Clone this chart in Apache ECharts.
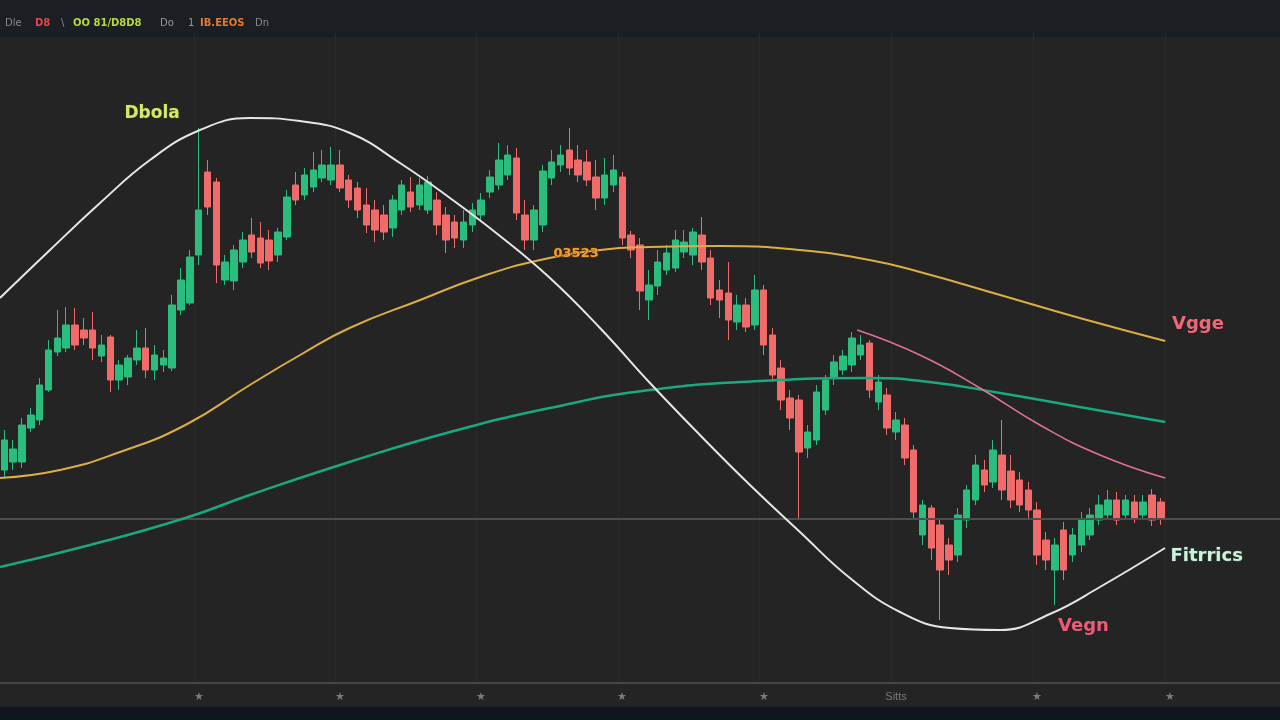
<!DOCTYPE html>
<html>
<head>
<meta charset="utf-8">
<script src="https://cdn.jsdelivr.net/npm/echarts@6/dist/echarts.min.js"></script>
<style>
html,body{margin:0;padding:0;background:#242424;}
#chart{width:1280px;height:720px;}
</style>
</head>
<body>
<div id="chart"></div>
<script>
// ---- Candles (index 0..131) ----
const candleOpen = [42.6,44.2,44.2,51.0,52.6,58.6,66.2,67.0,71.6,70.6,70.6,65.4,69.2,60.6,61.2,64.6,67.0,62.6,63.6,63.0,
74.6,76.0,85.6,102.2,100.2,80.6,80.4,84.2,89.6,89.0,88.6,85.6,89.2,99.6,97.6,99.2,101.0,100.6,103.6,100.6,
99.0,95.6,94.6,93.6,91.0,94.6,98.2,95.6,94.6,96.6,93.6,92.2,88.6,91.6,93.6,98.2,99.6,101.6,105.0,93.6,
88.6,91.6,101.0,103.6,106.6,104.6,104.2,101.2,97.0,99.6,101.2,89.6,87.6,76.6,79.4,82.6,83.0,86.2,85.6,89.6,
85.0,78.6,78.0,72.2,75.6,71.6,78.6,69.6,63.0,57.0,56.6,47.0,48.6,54.6,61.0,62.6,63.6,65.6,68.0,56.2,
57.6,50.2,51.6,46.6,29.6,35.0,31.6,27.6,25.6,32.6,36.6,42.6,40.2,45.6,42.4,40.6,38.6,34.6,28.6,22.6,
30.6,25.6,27.6,29.6,32.6,33.6,36.6,33.6,36.2,33.6,37.6,36.2];
const candleClose = [48.6,46.8,51.6,53.6,59.6,66.6,69.0,71.6,67.6,69.0,67.0,67.6,60.6,63.6,65.0,67.0,62.6,65.6,65.0,75.6,
80.6,85.2,94.6,95.2,83.6,84.2,86.6,88.6,86.2,84.0,84.4,90.2,97.2,96.6,101.6,102.6,103.6,103.6,99.0,96.6,
94.6,91.6,90.6,90.2,96.6,99.6,95.2,99.6,100.2,91.6,88.6,89.0,92.2,94.6,96.6,101.2,104.6,105.6,94.0,88.6,
94.6,102.4,104.2,105.6,103.0,101.6,100.6,97.0,101.6,102.6,89.0,86.6,78.4,79.6,84.2,86.0,88.6,88.2,90.2,84.2,
77.0,76.6,72.6,75.6,71.2,78.6,67.6,61.6,56.6,53.0,46.2,50.2,58.2,60.6,64.2,65.4,69.0,67.6,58.6,60.2,
51.0,52.6,45.0,34.2,35.6,27.0,22.6,24.6,33.6,38.6,43.6,39.6,46.6,38.6,36.6,35.6,34.6,25.6,24.6,27.6,
22.6,29.6,32.6,33.6,35.6,36.6,32.6,36.6,33.0,36.2,32.6,33.0];
const candleLow = [41.0,42.6,43.0,50.2,51.6,58.2,65.4,66.2,66.6,67.6,64.6,64.2,58.2,58.6,59.6,63.6,61.0,60.6,62.2,62.4,
73.6,75.6,83.6,93.6,80.0,79.6,78.6,83.0,85.0,83.0,82.6,84.2,88.6,95.6,96.6,98.2,100.2,99.6,98.2,95.0,
93.0,90.0,88.2,88.6,89.2,93.6,94.2,94.6,93.8,89.6,86.0,87.0,87.0,90.2,92.6,97.0,98.6,100.6,92.6,86.6,
86.6,90.2,99.6,102.2,101.6,100.2,99.4,94.6,95.6,98.2,87.6,85.0,74.6,72.6,77.6,81.6,82.2,85.0,83.6,82.6,
75.6,73.0,68.6,70.6,70.2,70.6,65.6,60.2,54.6,50.6,32.6,45.0,47.6,53.6,59.6,61.6,62.2,64.6,57.0,54.6,
49.6,48.6,43.6,32.6,27.6,24.6,12.6,21.6,24.2,31.0,35.6,38.2,39.0,36.6,35.0,34.2,33.0,23.6,22.6,15.6,
20.6,24.2,26.2,28.6,31.6,32.6,31.6,32.6,32.0,32.6,31.4,31.6];
const candleHigh = [50.6,48.6,53.0,55.0,61.0,68.6,74.6,75.2,75.0,73.0,74.2,69.6,69.6,64.6,65.6,70.6,71.0,67.6,66.6,77.6,
83.0,86.6,111.0,104.6,101.0,85.6,87.6,90.2,93.0,92.2,90.6,91.0,98.6,102.2,103.0,106.2,106.6,107.2,106.6,101.6,
100.2,99.0,96.6,95.6,97.6,100.6,101.2,101.0,101.4,98.2,95.2,93.6,94.6,96.0,98.0,102.6,108.0,107.6,107.0,96.6,
95.6,103.6,106.6,107.6,111.0,107.6,106.6,104.6,105.0,105.6,102.2,90.4,89.0,82.6,86.6,87.6,90.6,90.6,91.0,93.2,
86.6,80.6,84.2,77.6,77.0,81.6,79.6,71.0,64.6,58.6,57.6,51.6,59.6,61.6,65.6,66.6,70.2,69.6,68.6,61.6,
59.0,54.2,53.0,47.6,36.6,35.6,32.6,29.0,35.0,39.6,45.6,44.6,48.6,52.6,45.6,42.2,40.2,36.2,30.2,29.0,
32.2,31.0,34.2,35.0,37.6,38.6,38.2,37.6,37.6,37.6,38.8,37.0];

// ---- Axis categories / tick labels ----
const categoryCount = 145;
const tickIndex = [22, 38, 54, 70, 86, 101, 117, 132];
const tickLabels = ['★', '★', '★', '★', '★', 'Sitts', '★', '★'];

// ---- Overlay curves: [day, value] ----
const whiteDays   = [0, 5.66, 11.33, 16.99, 22.66, 28.32, 33.98, 39.65, 45.31, 50.97, 56.64, 62.30, 67.97, 73.63, 79.29, 84.96, 90.62, 96.28, 101.95, 107.61, 113.28, 118.94, 124.60, 131.97];
const whiteValues = [77.0, 86.6, 96.0, 104.6, 110.6, 113.0, 112.4, 110.0, 104.0, 97.0, 89.4, 81.0, 71.0, 60.0, 49.6, 39.6, 30.2, 21.0, 14.2, 11.0, 10.6, 13.8, 19.2, 27.0];
const yellowDays   = [0, 6.8, 13.6, 21.0, 28.3, 34.0, 39.6, 47.6, 54.4, 61.2, 68.0, 73.6, 81.6, 90.6, 98.5, 104.2, 113.3, 122.3, 132.0];
const yellowValues = [41.0, 42.6, 46.2, 51.6, 59.6, 65.6, 71.0, 76.6, 81.2, 84.6, 86.6, 87.2, 87.4, 86.6, 84.6, 82.2, 77.6, 73.0, 68.4];
const tealDays   = [0, 10.2, 21.0, 28.3, 39.6, 51.0, 62.3, 73.6, 86.1, 98.5, 105.3, 113.3, 122.3, 132.0];
const tealValues = [23.2, 27.6, 33.0, 37.6, 44.2, 50.2, 55.0, 58.6, 60.4, 61.0, 60.2, 58.0, 55.2, 52.2];
const pinkDays   = [97.1, 104.2, 111.0, 117.8, 124.6, 132.0];
const pinkValues = [70.6, 65.6, 59.0, 51.6, 45.6, 41.0];
const supportLevel = 32.8;

const categories = [];
for (let i = 0; i < categoryCount; i++) categories.push('D' + i);
const candleData = candleOpen.map((o, i) => [o, candleClose[i], candleLow[i], candleHigh[i]]);
const pair = (d, v) => d.map((x, i) => [x, v[i]]);

const chart = echarts.init(document.getElementById('chart'), null, {renderer: 'canvas'});
const GREEN = '#2bbd7e', RED = '#f26b6b';

function lineSeries(days, vals, color, width, smooth) {
  return {
    type: 'line', xAxisIndex: 1, yAxisIndex: 0, smooth: smooth, showSymbol: false, silent: true,
    data: pair(days, vals), lineStyle: {color: color, width: width}, z: 5
  };
}

const txt = (x, y, s, color, size, weight, extra) => Object.assign({
  type: 'text', left: x, top: y, z: 100,
  style: Object.assign({text: s, fill: color, font: (weight || 'normal') + ' ' + size + 'px "DejaVu Sans"'}, extra || {})
});

chart.setOption({
  backgroundColor: '#242424',
  animation: false,
  grid: {left: 0, right: 0, top: 33, bottom: 37},
  xAxis: [{
    type: 'category', data: categories, boundaryGap: true,
    axisLine: {show: true, lineStyle: {color: '#474747', width: 2}},
    axisTick: {show: false},
    axisLabel: {
      interval: 0, color: '#7a7a7a', fontSize: 11, margin: 8,
      formatter: (v, idx) => { const k = tickIndex.indexOf(idx); return k >= 0 ? tickLabels[k] : ''; }
    },
    splitLine: {show: true, interval: (idx) => tickIndex.indexOf(idx) >= 0, lineStyle: {color: '#2b2b2b', width: 1}}
  }, {
    type: 'value', min: 0, max: categoryCount, show: false
  }],
  yAxis: [{
    type: 'value', min: 0, max: 130, show: false,
    splitLine: {show: false}
  }],
  graphic: [
    {type: 'rect', left: 0, top: 0, z: -10, shape: {width: 1280, height: 37}, style: {fill: '#1b1e23'}},
    {type: 'rect', left: 0, top: 707, z: -10, shape: {width: 1280, height: 13}, style: {fill: '#0f1620'}},
    txt(5, 18, 'Dle', '#8a8a8a', 10),
    txt(35, 18, 'D8', '#e04848', 10, 'bold'),
    txt(61, 18, '\\', '#888888', 10),
    txt(73, 18, 'OO 81/D8D8', '#b8d840', 10, 'bold'),
    txt(160, 18, 'Do', '#999999', 10),
    txt(188, 18, '1', '#999999', 10),
    txt(200, 18, 'IB.EEOS', '#e87830', 10, 'bold'),
    txt(255, 18, 'Dn', '#8a8a8a', 10),
    txt(124, 105, 'Dbola', '#d4e86a', 17, 'bold', {stroke: '#3a4010', lineWidth: 1}),
    txt(553, 247, '03523', '#f0a030', 13, 'bold', {stroke: '#7a3c00', lineWidth: 1}),
    txt(1172, 315, 'Vgge', '#f06878', 18, 'bold'),
    txt(1170, 547, 'Fitrrics', '#d0f0dc', 18, 'bold', {stroke: '#2a5040', lineWidth: 1}),
    txt(1058, 617, 'Vegn', '#f05a78', 18, 'bold')
  ],
  series: [
    {
      type: 'candlestick', xAxisIndex: 0, yAxisIndex: 0, data: candleData, barWidth: 7, z: 3,
      itemStyle: {color: GREEN, color0: RED, borderColor: GREEN, borderColor0: RED, borderWidth: 1},
      markLine: {
        silent: true, symbol: 'none', label: {show: false},
        lineStyle: {color: '#4e4e4e', width: 2, type: 'solid'},
        data: [{yAxis: supportLevel}]
      }
    },
    lineSeries(tealDays, tealValues, '#1aa880', 2.5, 0.5),
    lineSeries(yellowDays, yellowValues, '#dcae45', 2, 0.5),
    lineSeries(pinkDays, pinkValues, '#e0709a', 1.6, 0.5),
    lineSeries(whiteDays, whiteValues, '#e6e6e6', 2, 0.45)
  ]
});
</script>
</body>
</html>
